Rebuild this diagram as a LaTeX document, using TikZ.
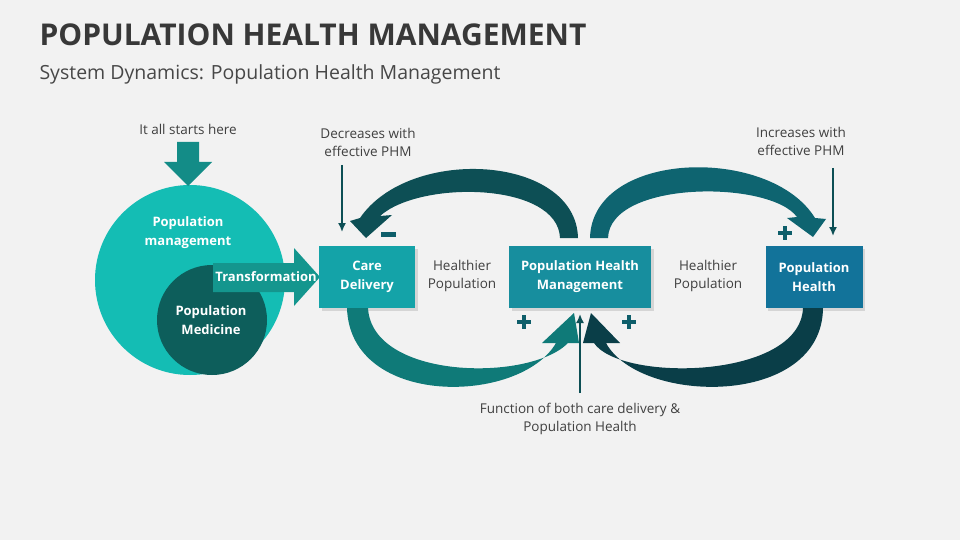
\documentclass[tikz,border=0pt]{standalone}
\usepackage{fontspec}
\setmainfont{Open Sans}
\begin{document}
\begin{tikzpicture}[x=1pt,y=-1pt,
  lbl/.style={font=\fontsize{13.5}{18}\selectfont, text=black!75, align=center},
  boxn/.style={minimum width=96pt, minimum height=62pt, font=\bfseries\fontsize{13}{19}\selectfont, text=white, align=center, drop shadow={opacity=0.25}},
  thin/.style={draw=arcA, line width=1.6pt, -{Latex[length=9pt,width=8pt]}},
  plus/.style={signc, line width=3.5pt}]
\usetikzlibrary{shadows,arrows.meta}
\definecolor{bg}{HTML}{F2F2F2}
\definecolor{arcA}{HTML}{0D4F55}
\definecolor{arcB}{HTML}{0E6470}
\definecolor{arcC}{HTML}{0F7A78}
\definecolor{arcD}{HTML}{0A3E48}
\definecolor{signc}{HTML}{0E5E6A}
\fill[bg] (0,0) rectangle (960,540);
\useasboundingbox (0,0) rectangle (960,540);
\node[anchor=west, font=\bfseries\fontsize{30}{34}\selectfont, text=black!78] (title) at (36,35) {POPULATION HEALTH MANAGEMENT};
\node[anchor=west, font=\fontsize{19.5}{22}\selectfont, text=black!72] (sub) at (36,74) {System Dynamics: Population Health Management};
% circles
\fill[fill={rgb,255:red,20;green,189;blue,180}] (190,280) circle (95);
\fill[fill={rgb,255:red,13;green,94;blue,91}] (212,320) circle (55);
\node[font=\bfseries\fontsize{13}{19}\selectfont, text=white, align=center] (pm) at (188,233) {Population\\management};
\node[font=\bfseries\fontsize{13}{19}\selectfont, text=white, align=center] (pmed) at (211,320) {Population\\Medicine};
% top block arrow
\fill[fill={rgb,255:red,19;green,140;blue,135}] (177,142) -- (199,142) -- (199,162) -- (212,162) -- (188,186) -- (164,162) -- (177,162) -- cycle;
\node[lbl] (start) at (188,129) {It all starts here};
% transformation arrow
\fill[fill={rgb,255:red,20;green,150;blue,142}] (213,263) -- (294,263) -- (294,248) -- (320,277) -- (294,306) -- (294,292) -- (213,292) -- cycle;
\node[font=\bfseries\fontsize{13}{14}\selectfont, text=white] (tr) at (266,277) {Transformation};
% boxes
\node[boxn, fill={rgb,255:red,20;green,163;blue,168}, minimum width=96pt] (cd) at (367,277) {Care\\Delivery};
\node[boxn, fill={rgb,255:red,23;green,142;blue,158}, minimum width=142pt] (phm) at (580,277) {Population Health\\Management};
\node[boxn, fill={rgb,255:red,18;green,115;blue,154}, minimum width=97pt] (ph) at (814,277) {Population\\Health};
\node[lbl] (h1) at (462,276) {Healthier\\Population};
\node[lbl] (h2) at (708,276) {Healthier\\Population};
% curved arrows
\fill[arcA] (578,238) .. controls (576,155) and (410,145) .. (360,218) -- (350,221) -- (366,238) -- (392,215) -- (380,216) .. controls (420,180) and (558,182) .. (560,238) -- cycle;
\fill[arcB] (590,238) .. controls (592,150) and (770,145) .. (815,218) -- (826,219) -- (813,237) -- (787,218) -- (797,217) .. controls (770,180) and (610,180) .. (608,238) -- cycle;
\fill[arcC] (347,308) .. controls (350,408) and (520,405) .. (556,343) -- (542,343) -- (574,313) -- (579,343) -- (568,343) .. controls (530,382) and (372,380) .. (368,308) -- cycle;
\fill[arcD] (823,308) .. controls (822,408) and (640,405) .. (606,343) -- (620,343) -- (591,313) -- (583,343) -- (594,343) .. controls (620,382) and (800,380) .. (803,308) -- cycle;
% thin arrows
\coordinate (t1) at (342,165); \coordinate (t1e) at (342,232);
\coordinate (t2) at (833,168); \coordinate (t2e) at (833,236);
\coordinate (t3) at (580,393); \coordinate (t3e) at (580,314);
\draw[thin] (t1) -- (t1e);
\draw[thin] (t2) -- (t2e);
\draw[thin] (t3) -- (t3e);
\node[lbl] (dec) at (368,142) {Decreases with\\effective PHM};
\node[lbl] (inc) at (801,141) {Increases with\\effective PHM};
\node[lbl] (fn) at (580,419) {Function of both care delivery \&\\Population Health};
\fill[signc] (381,232) rectangle (396,237);
\draw[plus] (778,233) -- (792,233) (785,226) -- (785,240);
\draw[plus] (517,322) -- (531,322) (524,315) -- (524,329);
\draw[plus] (622,322) -- (636,322) (629,315) -- (629,329);
\end{tikzpicture}
\end{document}
